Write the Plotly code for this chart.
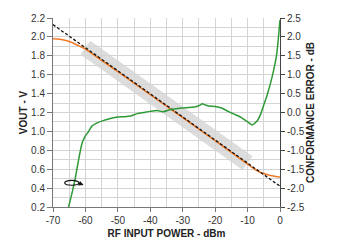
import plotly.graph_objects as go

# Ideal transfer line (dashed)
ideal_x = [-70, 0]
ideal_v = [2.13, 0.42]

# Conformance band (gray) endpoints along ideal line
band_x = [-60, -10]
band_v = [1.886, 0.664]

# VOUT measured (orange)
vout_x = [-70, -68, -66, -64, -62, -60, -55, -50, -45, -40, -35, -30, -25, -20, -15, -10, -8, -6, -4, -2, 0]
vout_v = [1.98, 1.976, 1.962, 1.938, 1.905, 1.872, 1.752, 1.632, 1.51, 1.39, 1.268, 1.147, 1.025, 0.902, 0.778, 0.655, 0.605, 0.565, 0.545, 0.528, 0.515]

# Conformance error (green, right axis)
err_x = [-65.2, -64, -63, -62, -61, -60, -59, -58, -56, -54, -52, -50, -48, -46, -44, -42, -40, -38,
         -36, -34, -32, -30, -28, -26, -24.5, -24, -23, -22, -20, -18, -16, -14, -12, -10, -9, -8.5,
         -8, -7, -6, -5, -4, -3, -2, -1, 0]
err_db = [-2.5, -2.08, -1.68, -1.2, -0.8, -0.62, -0.5, -0.36, -0.26, -0.2, -0.15, -0.12, -0.11, -0.09,
          -0.03, 0.0, 0.03, 0.05, 0.02, 0.07, 0.1, 0.12, 0.13, 0.15, 0.2, 0.23, 0.2, 0.17, 0.16, 0.12,
          0.03, -0.05, -0.13, -0.25, -0.31, -0.33, -0.3, -0.22, -0.05, 0.2, 0.45, 0.75, 1.1, 1.55, 2.45]

x_ticks = [-70, -60, -50, -40, -30, -20, -10, 0]
x_labels = ["-70", "-60", "-50", "-40", "-30", "-20", "-10", "0"]
y2_ticks = [2.5, 2.0, 1.5, 1.0, 0.5, 0.0, -0.5, -1.0, -1.5, -2.0, -2.5]
y2_labels = ["2.5", "2.0", "1.5", "1.0", "0.5", "0.0", "-0.5", "-1.0", "-1.5", "-2.0", "-2.5"]

fig = go.Figure()
fig.add_trace(go.Scatter(x=band_x, y=band_v, mode="lines",
                         line=dict(color="rgba(212,212,212,0.8)", width=17), hoverinfo="skip"))
fig.add_trace(go.Scatter(x=err_x, y=err_db, mode="lines", yaxis="y2",
                         line=dict(color="#2e9a35", width=1.5, shape="spline", smoothing=0.6)))
fig.add_trace(go.Scatter(x=vout_x, y=vout_v, mode="lines",
                         line=dict(color="#f07a28", width=1.6, shape="spline", smoothing=0.6)))
fig.add_trace(go.Scatter(x=ideal_x, y=ideal_v, mode="lines",
                         line=dict(color="#111111", width=1.3, dash="3px,2px")))

tickfont = dict(family="Liberation Sans, Arial, sans-serif", size=10, color="#333333")
titlefont = dict(family="Liberation Sans, Arial, sans-serif", size=10, color="#222222")

fig.update_layout(
    width=355, height=252,
    margin=dict(l=53, r=75, t=14, b=45),
    paper_bgcolor="white", plot_bgcolor="white",
    showlegend=False,
    xaxis=dict(range=[-70, 0], tickvals=x_ticks, ticktext=x_labels,
               showgrid=True, gridcolor="#d4d4d4", gridwidth=1,
               minor=dict(dtick=5, showgrid=True, gridcolor="#d4d4d4", gridwidth=1),
               showline=True, linecolor="#777777", linewidth=1,
               ticks="outside", ticklen=4, tickcolor="#777777",
               tickfont=tickfont, zeroline=False,
               title=dict(text="<b>RF INPUT POWER - dBm</b>", font=titlefont, standoff=4)),
    yaxis=dict(range=[0.2, 2.2], dtick=0.2, tick0=0.2, tickformat=".1f",
               showgrid=True, gridcolor="#d4d4d4", gridwidth=1,
               minor=dict(dtick=0.1, showgrid=True, gridcolor="#d4d4d4", gridwidth=1),
               showline=True, linecolor="#777777", linewidth=1,
               ticks="outside", ticklen=5, tickcolor="#777777",
               tickfont=tickfont, zeroline=False,
               title=dict(text="<b>VOUT - V</b>", font=titlefont, standoff=1)),
    yaxis2=dict(range=[-2.5, 2.5], tickvals=y2_ticks, ticktext=y2_labels,
                overlaying="y", side="right", showgrid=False,
                showline=True, linecolor="#444444", linewidth=1,
                ticks="outside", ticklen=4, tickcolor="#444444",
                tickfont=tickfont, zeroline=False,
                title=dict(text="<b>CONFORMANCE ERROR - dB</b>", font=titlefont, standoff=3)),
    shapes=[dict(type="circle", xref="x", yref="y", x0=-66.4, x1=-62.0, y0=0.43, y1=0.482,
                 line=dict(color="#111111", width=1.2))],
    annotations=[dict(x=-60.6, y=0.432, ax=-62.0, ay=0.452, xref="x", yref="y", axref="x", ayref="y",
                      showarrow=True, arrowhead=2, arrowsize=0.8, arrowwidth=1.2, arrowcolor="#111111", text="")],
)

fig.write_html("out.html")
